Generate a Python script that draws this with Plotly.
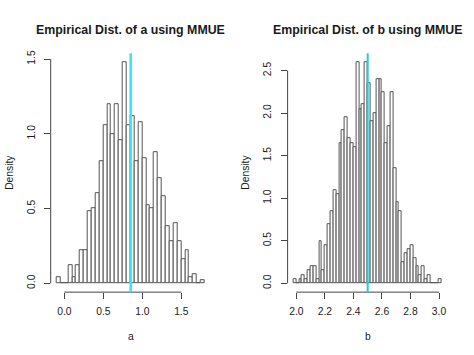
import plotly.graph_objects as go

# ---------------- data ----------------
a_break_start = -0.10
a_bin_width = 0.05
a_density = [0.04, 0.00, 0.00, 0.12, 0.04, 0.12, 0.22, 0.22, 0.48, 0.50,
             0.60, 0.82, 1.06, 1.20, 1.00, 1.20, 0.96, 1.48, 1.06, 1.12,
             0.82, 1.08, 0.84, 0.52, 0.50, 0.88, 0.70, 0.58, 0.38, 0.28,
             0.40, 0.28, 0.16, 0.22, 0.04, 0.06, 0.00, 0.02]
a_line = 0.85
a_xticks = [0.0, 0.5, 1.0, 1.5]
a_xticklabels = ["0.0", "0.5", "1.0", "1.5"]
a_yticks = [0.0, 0.5, 1.0, 1.5]
a_yticklabels = ["0.0", "0.5", "1.0", "1.5"]

b_break_start = 1.98
b_bin_width = 0.02
b_density = [0.05, 0.00, 0.05, 0.10, 0.05, 0.15, 0.20, 0.20, 0.05, 0.50,
             0.15, 0.45, 0.70, 0.85, 1.10, 1.05, 1.65, 1.80, 1.95, 1.70,
             1.65, 1.60, 2.60, 2.05, 2.10, 2.60, 2.35, 1.90, 2.00, 2.40,
             2.40, 2.25, 1.65, 1.85, 2.25, 1.35, 0.95, 0.85, 0.25, 0.35,
             0.40, 0.45, 0.30, 0.20, 0.10, 0.20, 0.05, 0.10, 0.00, 0.00,
             0.00, 0.05]
b_line = 2.5
b_xticks = [2.0, 2.2, 2.4, 2.6, 2.8, 3.0]
b_xticklabels = ["2.0", "2.2", "2.4", "2.6", "2.8", "3.0"]
b_yticks = [0.0, 0.5, 1.0, 1.5, 2.0, 2.5]
b_yticklabels = ["0.0", "0.5", "1.0", "1.5", "2.0", "2.5"]

titles = ["Empirical Dist. of a using MMUE", "Empirical Dist. of b using MMUE"]
xlabels = ["a", "b"]
ylabel = "Density"

# ---------------- helpers ----------------
W, H = 474, 355
FONT = "Liberation Sans, Arial, sans-serif"
AX = "#444444"
TXT = "#1a1a1a"
BASE = 10.3


def centers(start, width, n):
    return [round(start + (i + 0.5) * width, 6) for i in range(n)]


def ext(lo, hi):
    d = (hi - lo) * 0.04
    return [lo - d, hi + d]


a_n = len(a_density)
b_n = len(b_density)
a_x = centers(a_break_start, a_bin_width, a_n)
b_x = centers(b_break_start, b_bin_width, b_n)
a_xr = ext(a_break_start, a_break_start + a_n * a_bin_width)
b_xr = ext(b_break_start, b_break_start + b_n * b_bin_width)
a_yr = ext(0, max(a_density))
b_yr = ext(0, max(b_density))

# plot regions in pixels
L1, R1 = 50.7, 210.6
L2, R2 = 287.6, 447.8
TOP, BOT = 50.6, 291.6
xd1 = [L1 / W, R1 / W]
xd2 = [L2 / W, R2 / W]
yd = [1 - BOT / H, 1 - TOP / H]

fig = go.Figure()
bar_style = dict(color="white", line=dict(color="#555555", width=1))
fig.add_trace(go.Bar(x=a_x, y=a_density, width=a_bin_width, marker=bar_style,
                     xaxis="x", yaxis="y", showlegend=False))
fig.add_trace(go.Bar(x=b_x, y=b_density, width=b_bin_width, marker=bar_style,
                     xaxis="x2", yaxis="y2", showlegend=False))

tickfont = dict(family=FONT, size=BASE, color=TXT)
common = dict(showgrid=False, zeroline=False, showline=False, ticks="outside",
              ticklen=6, tickwidth=1, tickcolor=AX, tickfont=tickfont)

fig.update_layout(
    width=W, height=H, margin=dict(l=0, r=0, t=0, b=0),
    paper_bgcolor="white", plot_bgcolor="white",
    bargap=0,
    xaxis=dict(domain=xd1, range=a_xr, anchor="y", tickvals=a_xticks,
               ticktext=a_xticklabels, ticklabelstandoff=4, **common),
    yaxis=dict(domain=yd, range=a_yr, anchor="x", tickvals=a_yticks,
               ticktext=a_yticklabels, tickangle=-90, ticklabelstandoff=5, **common),
    xaxis2=dict(domain=xd2, range=b_xr, anchor="y2", tickvals=b_xticks,
                ticktext=b_xticklabels, ticklabelstandoff=4, **common),
    yaxis2=dict(domain=yd, range=b_yr, anchor="x2", tickvals=b_yticks,
                ticktext=b_yticklabels, tickangle=-90, ticklabelstandoff=5, **common),
)

shapes = []
# R-style axis lines spanning first to last tick
for xr, yr, xt, yt in [("x", "y", a_xticks, a_yticks), ("x2", "y2", b_xticks, b_yticks)]:
    shapes.append(dict(type="line", xref=xr, yref=yr + " domain", x0=xt[0], x1=xt[-1],
                       y0=0, y1=0, line=dict(color=AX, width=1)))
    shapes.append(dict(type="line", xref=xr + " domain", yref=yr, x0=0, x1=0,
                       y0=yt[0], y1=yt[-1], line=dict(color=AX, width=1)))
# vertical reference lines
shapes.append(dict(type="line", xref="x", yref="y domain", x0=a_line, x1=a_line,
                   y0=0, y1=1, line=dict(color="#33E6F5", width=2.5)))
shapes.append(dict(type="line", xref="x2", yref="y2 domain", x0=b_line, x1=b_line,
                   y0=0, y1=1, line=dict(color="#22CCD8", width=2)))
fig.update_layout(shapes=shapes)

ann = []
for i, (l, r) in enumerate([(L1, R1), (L2, R2)]):
    cx = (l + r) / 2 / W
    ann.append(dict(text="<b>" + titles[i] + "</b>", xref="paper", yref="paper",
                    x=cx, y=1 - 27 / H, xanchor="center", yanchor="middle",
                    showarrow=False, font=dict(family=FONT, size=BASE * 1.2, color=TXT)))
    ann.append(dict(text=xlabels[i], xref="paper", yref="paper",
                    x=cx, y=1 - 336 / H, xanchor="center", yanchor="middle",
                    showarrow=False, font=dict(family=FONT, size=BASE, color=TXT)))
    ann.append(dict(text=ylabel, xref="paper", yref="paper", textangle=-90,
                    x=(l - 41.5) / W, y=1 - ((TOP + BOT) / 2) / H,
                    xanchor="center", yanchor="middle",
                    showarrow=False, font=dict(family=FONT, size=BASE, color=TXT)))
fig.update_layout(annotations=ann)

fig.write_html("out.html",
               config={"displayModeBar": False},
               post_script="document.body.style.margin='0';document.body.style.padding='0';")
